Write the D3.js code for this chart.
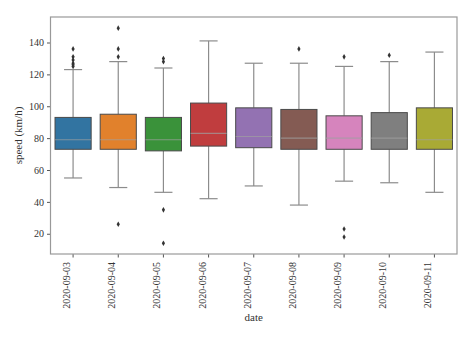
<!DOCTYPE html>
<html><head><meta charset="utf-8">
<script src="https://cdn.jsdelivr.net/npm/d3@7"></script>
<style>body{margin:0;background:#fff}</style>
</head><body><svg id="c" width="474" height="338"></svg>
<script>
const dates = ["2020-09-03","2020-09-04","2020-09-05","2020-09-06","2020-09-07","2020-09-08","2020-09-09","2020-09-10","2020-09-11"];
const whiskerLow = [55,49,46,42,50,38,53,52,46];
const q1 = [73,73,72,75,74,73,73,73,73];
const median = [79,79,79,83,81,80,80,80,79];
const q3 = [93,95,93,102,99,98,94,96,99];
const whiskerHigh = [123,128,124,141,127,127,125,128,134];
const outliers = [[136,131,129,127,126,125],[149,136,131,26],[130,128,35,14],[],[],[136],[131,23,18],[132],[]];
const colors = ["#3274a1","#e1812c","#3a923a","#c03d3e","#9372b2","#845b53","#d684bd","#7f7f7f","#a9aa35"];
const yTicks = [20,40,60,80,100,120,140];

const FONT = "'Liberation Serif','DejaVu Serif',serif";
const svg = d3.select("#c");
const m = {l:50.5,r:457,t:17,b:254};
const x = d3.scaleBand().domain(dates).range([m.l,m.r]).padding(0);
const y = d3.scaleLinear().domain([7.3,156]).range([m.b,m.t]);
const bw = x.bandwidth()*0.8;

const yAx = svg.append("g").attr("transform",`translate(${m.l},0)`).call(d3.axisLeft(y).tickValues(yTicks).tickSize(3.5).tickPadding(3));
const xAx = svg.append("g").attr("transform",`translate(0,${m.b})`).call(d3.axisBottom(x).tickSize(3.5).tickPadding(3));
[yAx,xAx].forEach(a=>{a.attr("font-family",FONT);a.select(".domain").remove();a.selectAll("line").attr("stroke","#555");a.selectAll("text").style("font-family",FONT).style("font-size","10px").attr("fill","#333");});
xAx.selectAll("text").attr("transform","rotate(-90)").attr("text-anchor","end").attr("dx","-0.4em").attr("dy","-0.3em").attr("x",-4).attr("y",0);

const g = svg.append("g");
dates.forEach((d,i)=>{
  const cx = x(d)+x.bandwidth()/2;
  const lc = "#8c8c8c";
  g.append("line").attr("x1",cx).attr("x2",cx).attr("y1",y(whiskerHigh[i])).attr("y2",y(q3[i])).attr("stroke",lc).attr("stroke-width",1.2);
  g.append("line").attr("x1",cx).attr("x2",cx).attr("y1",y(q1[i])).attr("y2",y(whiskerLow[i])).attr("stroke",lc).attr("stroke-width",1.2);
  [whiskerHigh[i],whiskerLow[i]].forEach(v=>g.append("line").attr("x1",cx-bw/4).attr("x2",cx+bw/4).attr("y1",y(v)).attr("y2",y(v)).attr("stroke",lc).attr("stroke-width",1.2));
  g.append("rect").attr("x",cx-bw/2).attr("width",bw).attr("y",y(q3[i])).attr("height",y(q1[i])-y(q3[i])).attr("fill",colors[i]).attr("stroke","#4a4a4a").attr("stroke-width",1);
  g.append("line").attr("x1",cx-bw/2).attr("x2",cx+bw/2).attr("y1",y(median[i])).attr("y2",y(median[i])).attr("stroke","#a0a0a0").attr("stroke-opacity",0.7).attr("stroke-width",1.1);
  outliers[i].forEach(v=>g.append("path").attr("d",d3.symbol(d3.symbolDiamond,9)()).attr("transform",`translate(${cx},${y(v)})`).attr("fill","#333"));
});

svg.append("rect").attr("x",m.l).attr("y",m.t).attr("width",m.r-m.l).attr("height",m.b-m.t).attr("fill","none").attr("stroke","#999").attr("stroke-width",1.2);

svg.append("text").attr("transform",`translate(22,${(m.t+m.b)/2}) rotate(-90)`).attr("text-anchor","middle").style("font-family",FONT).style("font-size","11px").attr("fill","#333").text("speed (km/h)");
svg.append("text").attr("x",(m.l+m.r)/2).attr("y",321).attr("text-anchor","middle").style("font-family",FONT).style("font-size","11px").attr("fill","#333").text("date");
</script></body></html>
